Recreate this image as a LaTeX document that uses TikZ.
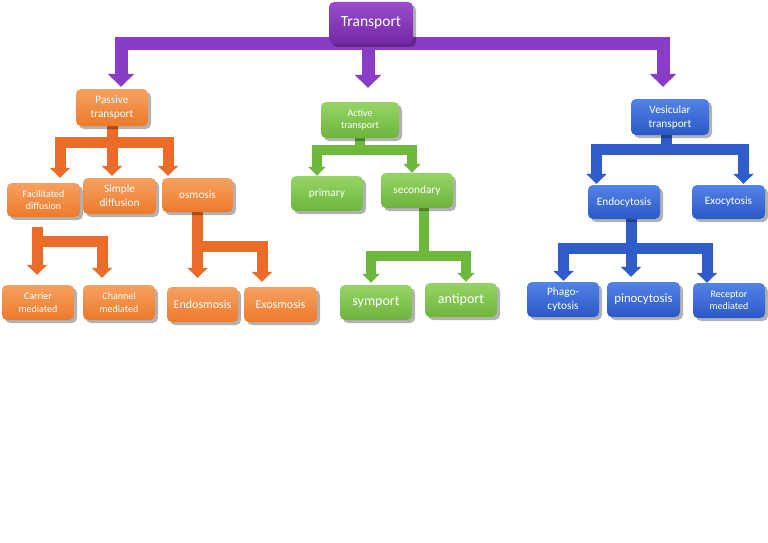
\documentclass[tikz,border=0pt]{standalone}
\usepackage{fontspec}
\setmainfont{Carlito}
\usetikzlibrary{arrows.meta,shadows,backgrounds}
\definecolor{purA}{HTML}{8B3CC6}
\definecolor{purT}{HTML}{9A4DCC}
\definecolor{purB}{HTML}{7328A3}
\definecolor{orA}{HTML}{EA6C28}
\definecolor{orT}{HTML}{F6A060}
\definecolor{orB}{HTML}{EE7A2A}
\definecolor{grA}{HTML}{6FB83E}
\definecolor{grT}{HTML}{96D565}
\definecolor{grB}{HTML}{6DB43C}
\definecolor{blA}{HTML}{2F5CC8}
\definecolor{blT}{HTML}{5283E6}
\definecolor{blB}{HTML}{2B58C8}
\tikzset{
  box/.style={rounded corners=5pt, minimum width=72pt, minimum height=35pt, inner sep=1pt,
    text=white, align=center,
    drop shadow={shadow xshift=3pt, shadow yshift=-3pt, opacity=0.3, fill=black}},
  pbox/.style={box, top color=purT, bottom color=purB},
  obox/.style={box, top color=orT, bottom color=orB},
  gbox/.style={box, top color=grT, bottom color=grB},
  bbox/.style={box, top color=blT, bottom color=blB},
  fa/.style={font=\fontsize{10}{12.5}\selectfont},
  fb/.style={font=\fontsize{11.3}{14}\selectfont},
  fc/.style={font=\fontsize{12}{14}\selectfont},
  fd/.style={font=\fontsize{14}{16}\selectfont},
  parr/.style={draw=purA, line width=13pt, line join=miter, -{Triangle[length=13pt,width=26pt]}},
  oarr/.style={draw=orA, line width=11pt, line join=miter, -{Triangle[length=10pt,width=20pt]}},
  garr/.style={draw=grA, line width=10pt, line join=miter, -{Triangle[length=9pt,width=17pt]}},
  barr/.style={draw=blA, line width=11pt, line join=miter, -{Triangle[length=10pt,width=20pt]}},
}
\begin{document}
\begin{tikzpicture}[x=1pt,y=-1pt]
\useasboundingbox (0,0) rectangle (768,543);

% nodes
\node[pbox, minimum width=84pt, minimum height=42pt, font=\fontsize{15.5}{18}\selectfont] (transport) at (371,23) {Transport};

\node[obox, fb, minimum height=37pt] (passive) at (112,107.5) {Passive\\transport};
\node[gbox, fa, minimum width=78pt, minimum height=36pt] (active) at (360,120) {Active\\transport};
\node[bbox, fb, minimum width=78pt, minimum height=36pt] (vesic) at (670,117) {Vesicular\\transport};

\node[obox, fa, minimum width=73pt, minimum height=34pt] (fac) at (43.5,200) {Facilitated\\diffusion};
\node[obox, fb, minimum width=73pt, minimum height=36pt] (simple) at (119.5,196) {Simple\\diffusion};
\node[obox, fb, minimum width=71pt, minimum height=34pt] (osmosis) at (197.5,195) {osmosis};

\node[obox, fa] (carrier) at (38,302.5) {Carrier\\mediated};
\node[obox, fa] (channel) at (119,302.5) {Channel\\mediated};
\node[obox, fc, minimum width=71pt] (endosm) at (202.5,304.5) {Endosmosis};
\node[obox, fc, minimum width=73pt] (exosm) at (280.5,304.5) {Exosmosis};

\node[gbox, fb] (primary) at (327,193.5) {primary};
\node[gbox, fb] (secondary) at (417,190.5) {secondary};
\node[gbox, fd] (symport) at (376,302.5) {symport};
\node[gbox, fd, minimum height=34pt] (antiport) at (461,300) {antiport};

\node[bbox, fb, minimum height=34pt] (endocyt) at (624,202) {Endocytosis};
\node[bbox, fb, minimum width=73pt, minimum height=34pt] (exocyt) at (728.5,202) {Exocytosis};
\node[bbox, fb] (phago) at (563,299.5) {Phago-\\cytosis};
\node[bbox, font=\fontsize{12.8}{15}\selectfont, minimum width=73pt] (pino) at (643.5,299.5) {pinocytosis};
\node[bbox, fa] (receptor) at (729,300.5) {Receptor\\mediated};

% helper coordinates
\coordinate (pL) at (121,43.5);
\coordinate (pM) at (368,43.5);
\coordinate (pR) at (663,43.5);
\coordinate (ob1) at (0,142);
\coordinate (xa) at (60,0);
\coordinate (xc) at (168,0);
\coordinate (fs) at (37,227);
\coordinate (ob2) at (0,241);
\coordinate (xd) at (102,0);
\coordinate (ob3) at (0,246);
\coordinate (xe) at (262,0);
\coordinate (gb1) at (0,150);
\coordinate (xf) at (317,0);
\coordinate (xg) at (412,0);
\coordinate (ss) at (423.5,208);
\coordinate (gb2) at (0,256);
\coordinate (xh) at (371,0);
\coordinate (xi) at (466,0);
\coordinate (vs) at (666.5,135);
\coordinate (bb1) at (0,149);
\coordinate (xj) at (596.5,0);
\coordinate (xk) at (743.5,0);
\coordinate (es) at (631,219);
\coordinate (bb2) at (0,248);
\coordinate (xl) at (563.5,0);
\coordinate (xm) at (707,0);

\begin{scope}[on background layer]
\fill[white] (0,0) rectangle (768,543);
% purple
\draw[parr, shorten >=2pt] (pM) -- (pL) -- (pL |- passive.north);
\draw[parr, shorten >=12pt] (pM) -- (pR) -- (pR |- vesic.north);
\draw[parr, shorten >=14pt] (transport.south -| pM) -- (pM |- active.north);
% passive
\draw[oarr, shorten >=5pt] (passive.south) |- (xa |- ob1) -- (xa |- fac.north);
\draw[oarr, shorten >=2pt] (passive.south) -- (passive.south |- simple.north);
\draw[oarr, shorten >=2pt] (passive.south) |- (xc |- ob1) -- (xc |- osmosis.north);
% facilitated
\draw[oarr, shorten >=10pt] (fs) -- (fs |- carrier.north);
\draw[oarr, shorten >=7pt] (fs) |- (xd |- ob2) -- (xd |- channel.north);
% osmosis
\draw[oarr, shorten >=9pt] (osmosis.south) -- (osmosis.south |- endosm.north);
\draw[oarr, shorten >=5pt] (osmosis.south) |- (xe |- ob3) -- (xe |- exosm.north);
% active
\draw[garr] (active.south) |- (xf |- gb1) -- (xf |- primary.north);
\draw[garr] (active.south) |- (xg |- gb1) -- (xg |- secondary.north);
% secondary
\draw[garr, shorten >=2pt] (ss) |- (xh |- gb2) -- (xh |- symport.north);
\draw[garr, shorten >=1pt] (ss) |- (xi |- gb2) -- (xi |- antiport.north);
% vesicular
\draw[barr, shorten >=1pt] (vs) |- (xj |- bb1) -- (xj |- endocyt.north);
\draw[barr, shorten >=1pt] (vs) |- (xk |- bb1) -- (xk |- exocyt.north);
% endocytosis
\draw[barr, shorten >=1pt] (es) |- (xl |- bb2) -- (xl |- phago.north);
\draw[barr, shorten >=5pt] (es) -- (es |- pino.north);
\draw[barr] (es) |- (xm |- bb2) -- (xm |- receptor.north);
\end{scope}
\end{tikzpicture}
\end{document}
